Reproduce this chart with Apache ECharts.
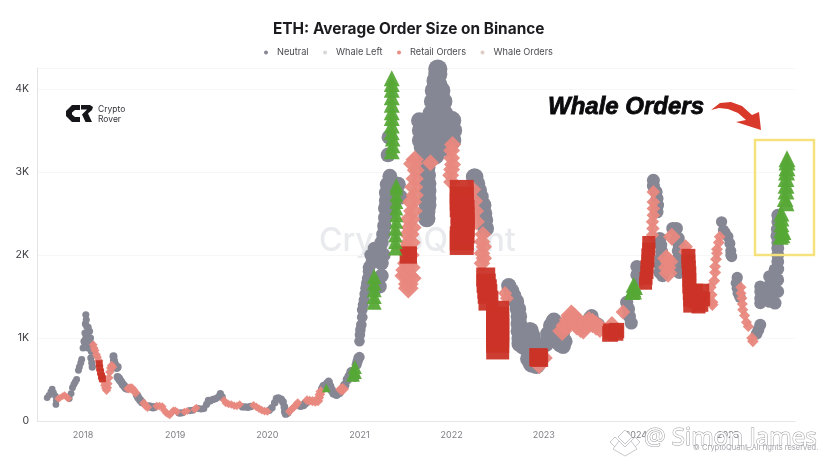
<!DOCTYPE html>
<html><head><meta charset="utf-8">
<style>html,body{margin:0;padding:0;background:#fff}#c{width:828px;height:468px}</style>
<script src="https://cdn.jsdelivr.net/npm/echarts@6/dist/echarts.min.js"></script>
</head><body><div id="c"></div>
<script>
const title = 'ETH: Average Order Size on Binance';
const seriesNames = ['Neutral', 'Whale Left', 'Retail Orders', 'Whale Orders'];
const yearTicks = [2018, 2019, 2020, 2021, 2022, 2023, 2024, 2025];
const valueTicks = {0: '0', 1000: '1K', 2000: '2K', 3000: '3K', 4000: '4K'};

// [decimal year, average order size]
const neutral = [[2017.61,280],[2017.63,310],[2017.65,350],[2017.665,386],[2017.68,340],[2017.70,300],[2017.71,250],[2017.705,200],[2017.85,270],[2017.87,330],[2017.885,400],[2017.90,440],[2017.915,470],[2017.93,500],[2017.95,610],[2017.96,650],[2017.975,700],[2017.985,740],[2018.00,880],[2018.01,960],[2018.02,1060],[2018.025,1170],[2018.03,1280],[2018.035,1220],[2018.04,1140],[2018.055,1130],[2018.07,1080],[2018.05,1030],[2018.03,1000],[2018.015,950],[2018.06,980],[2018.08,1000],[2018.09,930],[2018.09,840],[2018.085,760],[2018.095,700],[2018.10,650],[2018.07,900],[2018.05,880],
[2018.33,780],[2018.335,730],[2018.345,690],[2018.355,660],[2018.365,640],[2018.375,650],[2018.375,530],[2018.39,510],[2018.40,490],[2018.415,470],[2018.43,440],[2018.445,425],[2018.46,400],[2018.475,390],[2018.585,310],[2018.60,280],[2018.62,250],[2018.64,225],[2018.72,180],[2018.74,170],[2018.76,160],[2018.78,170],
[2019.04,95],[2019.06,95],[2019.08,100],[2019.16,125],[2019.19,130],[2019.25,150],[2019.28,145],[2019.31,150],[2019.34,200],[2019.36,250],[2019.38,240],[2019.41,260],[2019.44,270],[2019.47,290],[2019.49,330],[2019.51,290],[2019.73,170],[2019.76,170],[2019.79,165],[2019.82,175],
[2020.02,130],[2020.05,160],[2020.08,220],[2020.10,270],[2020.12,275],[2020.15,260],[2020.17,230],[2020.185,170],[2020.19,110],[2020.20,85],[2020.22,100],[2020.36,180],[2020.39,190],[2020.41,210],[2020.595,390],[2020.61,420],[2020.63,400],[2020.65,450],[2020.665,470],[2020.68,420],[2020.70,370],[2020.72,335],[2020.75,320],[2020.78,340],[2020.84,430],[2020.87,500],[2020.89,540],[2020.91,590],[2020.93,560],[2020.95,530],[2020.97,680],[2020.98,720],[2020.99,760],[2021.00,770],
[2021.00,960],[2021.005,1040],[2021.01,1100],[2021.02,1160],[2021.03,1250],[2021.03,1340],[2021.04,1400],[2021.05,1460],[2021.06,1530],[2021.07,1600],[2021.08,1660],[2021.09,1720],[2021.10,1800],[2021.12,1880],[2021.14,1950],[2021.15,2000],[2021.18,1600],[2021.22,1620],[2021.24,1750],[2021.24,1900],[2021.26,2000],[2021.22,2100],[2021.16,2080],[2021.12,2000],[2021.10,1850],[2021.24,2150],[2021.26,2250],[2021.27,2350],[2021.28,2450],[2021.28,2560],[2021.29,2660],[2021.29,2750],[2021.30,2850],[2021.33,2950],[2021.33,2900],[2021.31,2750],[2021.29,2600],[2021.42,2850],[2021.44,2700],[2021.31,2500],[2021.36,2600],[2021.31,3205],[2021.32,3420],
[2021.73,2440],[2021.73,2520],[2021.74,2600],[2021.74,2680],[2021.74,2770],[2021.74,2860],[2021.735,2960],[2021.73,3050],[2021.72,3150],[2021.71,3250],[2021.66,3380],[2021.66,3500],[2021.65,3620],[2021.68,3300],[2021.70,3250],[2021.78,3400],[2021.78,3550],[2021.78,3700],[2021.80,3850],[2021.81,3980],[2021.83,4100],[2021.85,4240],[2021.85,4180],[2021.85,4050],[2021.88,3980],[2021.90,3850],[2021.91,3700],[2021.91,3500],[2021.91,3350],[2021.85,3800],[2021.85,3500],[2021.85,3300],[2021.82,3200],[2021.78,3250],[2021.97,3600],[2022.00,3620],[2022.01,3500],[2022.00,3380],[2021.95,3500],[2021.95,3300],
[2022.25,2940],[2022.27,2860],[2022.29,2780],[2022.31,2700],[2022.34,2600],[2022.35,2500],[2022.36,2420],[2022.37,2320],[2022.62,1630],[2022.65,1570],[2022.67,1510],[2022.70,1440],[2022.72,1350],[2022.73,1260],[2022.73,1170],[2022.73,1080],[2022.74,990],[2022.74,930],[2022.78,900],[2022.82,1040],[2022.85,1085],[2022.87,1020],[2022.88,930],[2022.86,830],[2022.84,750],[2022.87,690],[2022.92,670],
[2023.02,930],[2023.05,1050],[2023.08,1150],[2023.11,1210],[2023.13,1120],[2023.10,1000],[2023.15,950],[2023.18,920],[2023.21,900],[2023.23,960],[2023.20,1040],[2023.52,1265],[2023.50,1240],[2023.56,1180],[2023.59,1160],[2023.90,1430],[2023.92,1350],[2023.93,1260],[2023.95,1180],
[2024.01,1860],[2024.01,1760],[2024.04,1700],[2024.19,2900],[2024.19,2830],[2024.22,2760],[2024.23,2680],[2024.235,2600],[2024.23,2520],[2024.26,2200],[2024.27,2120],[2024.28,2040],[2024.27,1960],[2024.26,1880],[2024.26,1790],[2024.29,1750],[2024.40,2320],[2024.44,2320],[2024.46,2200],[2024.47,2120],[2024.44,2180],[2024.46,2050],[2024.46,1960],[2024.46,1870],[2024.47,1790],
[2024.93,2400],[2024.95,2300],[2024.97,2270],[2025.00,2220],[2025.02,2140],[2025.03,2050],[2025.04,1980],[2025.03,2000],[2025.10,1730],[2025.09,1660],[2025.10,1600],[2025.11,1540],[2025.13,1490],[2025.35,1160],[2025.33,1100],[2025.31,1050],
[2025.35,1620],[2025.35,1560],[2025.35,1480],[2025.35,1420],[2025.40,1520],[2025.40,1460],[2025.45,1740],[2025.45,1630],[2025.45,1520],[2025.45,1440],[2025.51,1820],[2025.51,1700],[2025.51,1580],[2025.51,1420],[2025.54,1920],[2025.54,1830],[2025.54,1700],[2025.54,1560],[2025.54,2000],[2025.54,2080],[2025.54,2150],[2025.53,2230],[2025.535,2310],[2025.54,2400],[2025.54,2480]];

const whaleLeft = [[2017.73,270],[2017.75,280],[2017.78,300],[2017.80,310],[2017.82,290],[2017.84,270],[2018.11,920],[2018.12,880],[2018.13,850],[2018.145,800],[2018.155,770],[2018.17,730],[2018.23,470],[2018.235,430],[2018.245,395],[2018.255,370],[2018.265,400],[2018.27,450],[2018.28,520],[2018.29,590],[2018.30,640],[2018.31,670],[2018.32,650],[2018.49,390],[2018.51,395],[2018.53,395],[2018.55,370],[2018.57,340],[2018.66,215],[2018.68,180],[2018.70,165],[2018.80,180],[2018.83,180],[2018.86,175],[2018.88,130],[2018.90,100],[2018.92,85],[2018.94,70],[2018.96,100],[2018.98,125],[2019.00,125],[2019.02,110],[2019.10,110],[2019.13,120],[2019.21,140],[2019.23,160],[2019.53,250],[2019.55,215],[2019.58,205],[2019.61,200],[2019.64,185],[2019.67,180],[2019.70,200],[2019.85,190],[2019.88,170],[2019.91,150],[2019.94,130],[2019.97,120],[2020.00,115],[2020.24,115],[2020.26,140],[2020.29,170],[2020.31,190],[2020.33,220],[2020.43,250],[2020.46,245],[2020.49,240],[2020.52,235],[2020.55,240],[2020.56,280],[2020.57,320],[2020.58,355],[2020.80,380],[2020.82,385],
[2021.53,1600],[2021.53,1650],[2021.56,1720],[2021.49,1750],[2021.53,1750],[2021.50,1820],[2021.55,1850],[2021.52,1900],[2021.54,2000],[2021.52,2080],[2021.55,2150],[2021.54,2250],[2021.56,2330],[2021.55,2430],[2021.58,2530],[2021.57,2640],[2021.60,2720],[2021.59,2820],[2021.60,2920],[2021.61,3020],[2021.60,3150],[2021.58,3100],[2021.77,3110],[2022.01,3330],[2022.00,3260],[2022.00,3170],[2022.01,3090],[2022.00,3030],[2021.99,2960],[2022.00,2880],[2022.23,2790],[2022.25,2650],[2022.26,2530],[2022.27,2400],[2022.34,2250],[2022.33,2160],[2022.35,2100],[2022.33,2020],[2022.35,1960],[2022.33,1900],[2022.58,1540],[2022.60,1480],
[2022.95,660],[2023.01,760],[2023.20,1085],[2023.24,1150],[2023.28,1220],[2023.30,1270],[2023.33,1240],[2023.36,1160],[2023.40,1130],[2023.43,1110],[2023.46,1170],[2023.49,1200],[2023.53,1180],[2023.57,1150],[2023.61,1120],[2023.74,1160],[2023.86,1313],
[2024.18,2240],[2024.185,2320],[2024.18,2400],[2024.19,2480],[2024.19,2560],[2024.19,2640],[2024.19,2760],[2024.35,1780],[2024.34,1850],[2024.36,1920],[2024.33,1960],[2024.39,2220],[2024.54,2100],[2024.54,2040],[2024.81,1610],[2024.82,1520],[2024.83,1430],[2024.83,1400],[2024.85,1690],[2024.86,1790],[2024.86,1860],[2024.87,1950],[2024.88,2020],[2024.88,2070],[2024.90,2150],[2024.91,2220],[2025.14,1610],[2025.14,1540],[2025.15,1480],[2025.155,1410],[2025.16,1340],[2025.18,1270],[2025.20,1190],[2025.22,1140],[2025.26,1000],[2025.27,960]];

const retailOrders = [[2018.175,690],[2018.18,640],[2018.19,590],[2018.20,540],[2018.21,510],[2021.53,2000],[2022.11,2760],[2022.11,2680],[2022.11,2600],[2022.12,2520],[2022.12,2440],[2022.12,2360],[2022.12,2280],[2022.11,2200],[2022.11,2145],[2022.37,1735],[2022.375,1660],[2022.385,1590],[2022.39,1530],[2022.40,1450],[2022.50,1310],[2022.50,1240],[2022.50,1170],[2022.50,1100],[2022.50,1030],[2022.50,960],[2022.50,880],[2022.94,770],[2022.95,760],[2023.73,1080],[2023.78,1060],[2023.72,1050],[2023.79,1090],[2024.14,2150],[2024.14,2070],[2024.13,2000],[2024.13,1930],[2024.12,1860],[2024.12,1790],[2024.11,1720],[2024.105,1660],[2024.57,1990],[2024.57,1920],[2024.575,1850],[2024.58,1780],[2024.58,1700],[2024.58,1620],[2024.585,1540],[2024.59,1460],[2024.59,1390],[2024.65,1570],[2024.72,1570],[2024.67,1480],[2024.71,1480],[2024.68,1380],[2024.71,1400],[2024.65,1440],[2024.73,1470]];

const whaleOrders = [[2020.64,398],[2020.95,590],[2020.95,650],[2020.93,554],[2021.16,1740],[2021.16,1660],[2021.16,1580],[2021.16,1500],[2021.16,1430],[2021.40,2840],[2021.40,2800],[2021.40,2720],[2021.40,2640],[2021.40,2560],[2021.40,2480],[2021.40,2400],[2021.39,2320],[2021.39,2240],[2021.39,2160],[2021.39,2080],[2021.35,4130],[2021.35,4060],[2021.35,3990],[2021.35,3900],[2021.35,3810],[2021.35,3720],[2021.35,3650],[2021.35,3560],[2021.35,3480],[2021.36,3400],[2021.36,3320],[2021.35,3250],[2023.97,1590],[2023.96,1554],[2023.99,1615],[2023.98,1560],[2023.975,1640],[2025.58,2500],[2025.58,2440],[2025.58,2370],[2025.58,2300],[2025.59,2240],[2025.57,2220],[2025.60,2280],[2025.63,2630],[2025.62,2680],[2025.64,3160],[2025.64,3120],[2025.64,3050],[2025.635,3000],[2025.63,2920],[2025.63,2840],[2025.63,2770]];

// marker diameter schedules over time, one per series
const neutralSizes = [[2017.5,6.5],[2018,7],[2018.5,8.5],[2019,7],[2020,7.5],[2020.6,8.5],[2020.95,10],[2021.05,11],[2021.2,14],[2021.35,15],[2021.7,17],[2021.9,20],[2022.2,18],[2022.6,15],[2022.85,18],[2023.1,16],[2023.5,14],[2024,13],[2024.5,13],[2025,11],[2025.35,12],[2025.5,13],[2025.7,12]];
const leftSizes = [[2017.5,7],[2018.5,10],[2019,8],[2020.3,9],[2020.8,12],[2021.45,20],[2021.56,21],[2021.62,17],[2022,17],[2022.3,17],[2022.6,14],[2023,16],[2023.3,22],[2023.6,20],[2023.9,14],[2024.17,13],[2024.35,19],[2024.5,15],[2024.85,12],[2025.2,11],[2025.3,12]];
const retailSizes = [[2018.2,7],[2021.5,17],[2022.11,24],[2022.37,19],[2022.5,23],[2022.94,18],[2023.7,16],[2024.1,13],[2024.6,14],[2024.7,14]];
const whaleSizes = [[2020.6,8],[2020.95,14],[2021.16,15],[2021.35,16],[2021.4,14],[2024,16],[2025.58,16],[2025.64,17]];
function sizeAt(stops,y){
  if(y<=stops[0][0]) return stops[0][1];
  for(let i=1;i<stops.length;i++){
    if(y<=stops[i][0]){const a=stops[i-1],b=stops[i];return a[1]+(b[1]-a[1])*(y-a[0])/(b[0]-a[0]);}
  }
  return stops[stops.length-1][1];
}
function scatter(name,data,symbol,color,stops,opacity){
  return {name,type:'scatter',data,symbol,clip:false,
    symbolSize:v=>sizeAt(stops,v[0]),
    itemStyle:{color,opacity},emphasis:{disabled:true}};
}
function poly(points,fill,z,extra){
  return Object.assign({type:'polygon',shape:{points},style:{fill},z,silent:true},extra||{});
}
const grey='#868794', salmon='#e8887e', red='#cb3327', green='#56a836';
const outline={style:{fill:'#ffffff',stroke:'#bdbdc2',lineWidth:0.8}};
const chart=echarts.init(document.getElementById('c'),null,{renderer:'canvas'});
chart.setOption({
  animation:false,backgroundColor:'#fff',
  title:{text:title,left:273,top:22,padding:0,itemGap:0,
    textStyle:{fontFamily:'Inter',fontSize:15.4,fontWeight:'bold',color:'#1c1c20'}},
  legend:{top:43,left:259,itemWidth:4,itemHeight:4,itemGap:14.5,icon:'circle',
    textStyle:{fontFamily:'Inter',fontSize:9.2,color:'#4a4a50',padding:[0,0,0,4]},
    data:[
      {name:seriesNames[0],itemStyle:{color:grey}},
      {name:seriesNames[1],itemStyle:{color:'#d5d5d8'}},
      {name:seriesNames[2],itemStyle:{color:salmon}},
      {name:seriesNames[3],itemStyle:{color:'#dcc9c2'}}]},
  grid:{left:37,right:33,top:68,bottom:47},
  xAxis:{type:'value',min:2017.5,max:2025.727,interval:0.5,
    axisLine:{lineStyle:{color:'#e6e6e9',width:1}},axisTick:{show:false},splitLine:{show:false},
    axisLabel:{margin:10,fontFamily:'Inter',fontSize:9,color:'#7d7d84',showMaxLabel:false,
      formatter:v=>yearTicks.includes(v)?String(v):''}},
  yAxis:{type:'value',min:0,max:4253,interval:1000,
    axisLine:{show:true,lineStyle:{color:'#e3e3e6',width:1}},axisTick:{show:false},
    splitLine:{lineStyle:{color:'#f7f7f8',width:1}},
    axisLabel:{margin:8,fontFamily:'Inter',fontSize:10.5,color:'#3c3c42',
      formatter:v=>valueTicks[v]!==undefined?valueTicks[v]:''}},
  series:[
    scatter(seriesNames[0],neutral,'circle',grey,neutralSizes,1),
    scatter(seriesNames[1],whaleLeft,'diamond',salmon,leftSizes,0.95),
    scatter(seriesNames[2],retailOrders,'rect',red,retailSizes,0.95),
    scatter(seriesNames[3],whaleOrders,'triangle',green,whaleSizes,0.95)
  ],
  graphic:[
    {type:'text',z:-1,x:319,y:225,style:{text:'CryptoQuant',font:'500 32px Inter',fill:'#e9eaed'},silent:true},
    poly([[80,105],[72,105],[66,111],[66,116],[72,122],[80,122],[80,117],[75,117],[72,114.5],[72,112.5],[75,110],[80,110]],'#15151a',5),
    poly([[81,105],[90,105],[93,107],[92,110],[88,113.5],[92,122],[85.5,122],[82,114.5],[87,109.5],[81,109.5]],'#15151a',5),
    {type:'text',x:98,y:104,style:{text:'Crypto\nRover',font:'8.5px Inter',fill:'#33333a',lineHeight:10},z:5,silent:true},
    {type:'text',x:548,y:95,style:{text:'Whale Orders',font:'italic bold 24px "Liberation Sans"',fill:'#0b0b0e',stroke:'#0b0b0e',lineWidth:0.8},z:10,silent:true},
    poly([[711,110],[720,103],[731,102],[742,106],[752,115],[759,112],[761,130],[736,122],[746,120],[738,113],[728,109],[719,108]],'#d8392b',10),
    {type:'rect',shape:{x:755,y:140,width:59,height:115},style:{fill:'none',stroke:'#f5e27c',lineWidth:2.5},z:10,silent:true},
    poly([[625,430],[632,437],[625,444],[618,437]],'#ffffff',20,outline),
    poly([[615,437],[620,442],[615,447],[610,442]],'#ffffff',20,outline),
    poly([[635,437],[640,442],[635,447],[630,442]],'#ffffff',20,outline),
    poly([[625,447],[631,441],[637,449],[625,456],[613,449],[619,441]],'#ffffff',20,outline),
    {type:'text',x:644,y:426,style:{text:'@ Simon James',font:'24px "Noto Sans"',fill:'#ffffff',stroke:'#9a9a9e',lineWidth:1},z:20,silent:true},
    {type:'text',x:693,y:444,style:{text:'© CryptoQuant. All rights reserved.',font:'7.5px Inter',fill:'#a5a5ab'},z:19,silent:true}
  ]
});
</script></body></html>
